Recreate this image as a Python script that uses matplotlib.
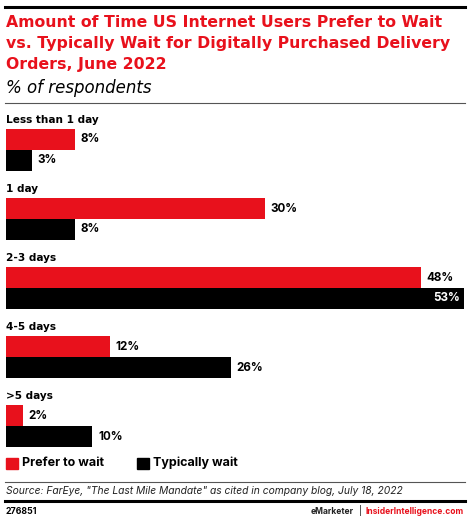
import matplotlib
matplotlib.use("Agg")
import matplotlib.pyplot as plt
from matplotlib.patches import Rectangle
from matplotlib.lines import Line2D

categories = ["Less than 1 day", "1 day", "2-3 days", "4-5 days", ">5 days"]
prefer = [8, 30, 48, 12, 2]
typical = [3, 8, 53, 26, 10]
series_names = ["Prefer to wait", "Typically wait"]

RED = "#E8111C"
BLACK = "#000000"
FONT = "Inter"
DV = "DejaVu Sans"

W, H = 470, 521
fig = plt.figure(figsize=(W / 100, H / 100), dpi=100)

def fx(x):
    return x / W

def fy(y):
    return 1 - y / H

# top rule
fig.add_artist(Line2D([fx(5), fx(465)], [fy(6.5), fy(6.5)], color="black", lw=2.2))
title_lines = ["Amount of Time US Internet Users Prefer to Wait",
               "vs. Typically Wait for Digitally Purchased Delivery",
               "Orders, June 2022"]
for k, line in enumerate(title_lines):
    fig.text(fx(5.5), fy(27 + 21 * k), line, color=RED, fontsize=11.3, fontweight="bold",
             family=DV, va="baseline", ha="left")
fig.text(fx(6), fy(93), "% of respondents", fontsize=12.0, style="italic",
         family=DV, va="baseline", ha="left")
fig.add_artist(Line2D([fx(5), fx(465)], [fy(103), fy(103)], color="#555555", lw=0.8))

# axes for bars
top_px, bot_px = 129, 447
ax = fig.add_axes([fx(6), fy(bot_px), fx(464) - fx(6), (bot_px - top_px) / H])
step = 3.3
n = len(categories)
ax.set_xlim(0, 53)
ax.set_ylim((n - 1) * step + 2, 0)
ax.axis("off")
for i, (c, p, t) in enumerate(zip(categories, prefer, typical)):
    yr = i * step + 0.5
    yb = i * step + 1.5
    ax.barh(yr, p, height=1.0, color=RED, edgecolor="none")
    ax.barh(yb, t, height=1.0, color=BLACK, edgecolor="none")
    ax.text(0, i * step - 0.42, c, fontsize=7.6, fontweight="bold", family=DV,
            va="center", ha="left", clip_on=False)
    ax.annotate(f"{p}%", (p, yr), xytext=(4, 0), textcoords="offset points",
                fontsize=8.4, fontweight="bold", family=FONT, va="center", ha="left")
    if t >= 45:
        ax.annotate(f"{t}%", (t, yb), xytext=(-3, 0), textcoords="offset points",
                    fontsize=8.4, fontweight="bold", family=FONT, va="center",
                    ha="right", color="white")
    else:
        ax.annotate(f"{t}%", (t, yb), xytext=(4, 0), textcoords="offset points",
                    fontsize=8.4, fontweight="bold", family=FONT, va="center", ha="left")

# legend
for (x0, tx), name, col in zip([(6, 22), (137, 153)], series_names, [RED, BLACK]):
    fig.add_artist(Rectangle((fx(x0), fy(468.5)), fx(11.5), 11 / H, color=col,
                             transform=fig.transFigure))
    fig.text(fx(tx), fy(463), name, fontsize=9, fontweight="bold", family=FONT,
             va="center", ha="left")

# footer
fig.add_artist(Line2D([fx(5), fx(465)], [fy(482), fy(482)], color="#555555", lw=0.8))
fig.text(fx(6), fy(491.5), 'Source: FarEye, "The Last Mile Mandate" as cited in company blog, July 18, 2022',
         fontsize=7.4, style="italic", family=FONT, va="center", ha="left", color="#222222")
fig.add_artist(Line2D([fx(5), fx(465)], [fy(500.5), fy(500.5)], color="black", lw=2.2))
fig.text(fx(6), fy(511), "276851", fontsize=6.3, fontweight="bold", family=FONT,
         va="center", ha="left")
fig.text(fx(464), fy(511), "InsiderIntelligence.com", fontsize=6.1, fontweight="bold",
         family=FONT, va="center", ha="right", color=RED)
fig.text(fx(360), fy(511), "|", fontsize=6.5, family=FONT, va="center", ha="center",
         color="#222222")
fig.text(fx(354), fy(511), "eMarketer", fontsize=6.1, fontweight="bold",
         family=FONT, va="center", ha="right", color="#222222")

fig.savefig("out.png", dpi=100)
